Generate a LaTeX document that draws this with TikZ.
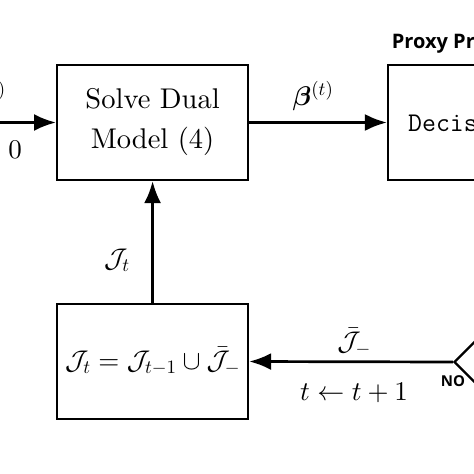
\documentclass[tikz,border=0pt]{standalone}
\usepackage{amsmath,bm}
\usepackage{fontspec}
\setmainfont{lmroman10-regular.otf}[BoldFont=lmroman10-bold.otf,ItalicFont=lmroman10-italic.otf]
\newfontfamily\labelsans{Open Sans}
\DeclareFontShape{OML}{cmm}{m}{it}{<->cmmi10}{}
\DeclareFontShape{OML}{cmm}{b}{it}{<->cmmib10}{}
\DeclareFontShape{OMS}{cmsy}{m}{n}{<->cmsy10}{}
\DeclareFontShape{OT1}{cmr}{m}{n}{<->cmr10}{}
\usetikzlibrary{arrows.meta,shapes.geometric}
\begin{document}
\begin{tikzpicture}[x=1pt,y=-1pt,
  box/.style={draw, line width=2.2pt, inner sep=0pt, minimum width=191pt, minimum height=115pt},
  flow/.style={line width=2.7pt, -{Latex[length=22pt,width=17pt]}},
  big/.style={font=\fontsize{28.5}{40}\selectfont, inner sep=0pt},
  mth/.style={font=\fontsize{27}{32}\selectfont, inner sep=0pt},
  mono/.style={font=\fontsize{27}{32}\selectfont\ttfamily, inner sep=0pt},
  tag/.style={font=\fontsize{20}{23}\selectfont\labelsans\bfseries, inner sep=0pt},
  tagsmall/.style={font=\fontsize{15}{18}\selectfont\labelsans\bfseries, inner sep=0pt}]
\path[use as bounding box] (0,0) rectangle (474,474);
\clip (0,0) rectangle (474,474);
% boxes
\node[box, big, align=center] (solve) at (152.6,122.5) {Solve Dual\\Model (4)};
\node[box, minimum width=200pt] (dec) at (488,122.5) {};
\node[mono, anchor=base west] (dectext) at (408,131.7) {Decision};
\node[tag, anchor=base west] (proxy) at (391.7,48.5) {Proxy Problem};
\node[box, mth] (upd) at (152.6,361.5) {$\mathcal{J}_t=\mathcal{J}_{t-1}\cup\bar{\mathcal{J}}_{-}$};
\node[draw, diamond, line width=2.2pt, minimum width=120pt, minimum height=120pt, inner sep=0pt] (dia) at (514,362) {};
% connectors
\coordinate (in) at (-10,122.5);
\draw[flow] (in) -- (solve.west);
\draw[flow] (solve.east) -- (dec.west);
\draw[flow] (upd.north) -- (solve.south);
\draw[flow] (dia.west) -- (upd.east);
% labels
\node[mth, anchor=east] (b0) at (6,96) {$\bm\beta^{(0)}$};
\node[mth, anchor=base east] (t0) at (22,158) {$t\leftarrow 0$};
\node[mth] (bt) at (313,96) {$\bm\beta^{(t)}$};
\node[mth] (jt) at (117,260) {$\mathcal{J}_t$};
\node[mth] (jm) at (354,342) {$\bar{\mathcal{J}}_{-}$};
\node[mth, anchor=base] (tt) at (354,400) {$t\leftarrow t+1$};
\node[tagsmall] (no) at (453,381.5) {NO};
\end{tikzpicture}
\end{document}
